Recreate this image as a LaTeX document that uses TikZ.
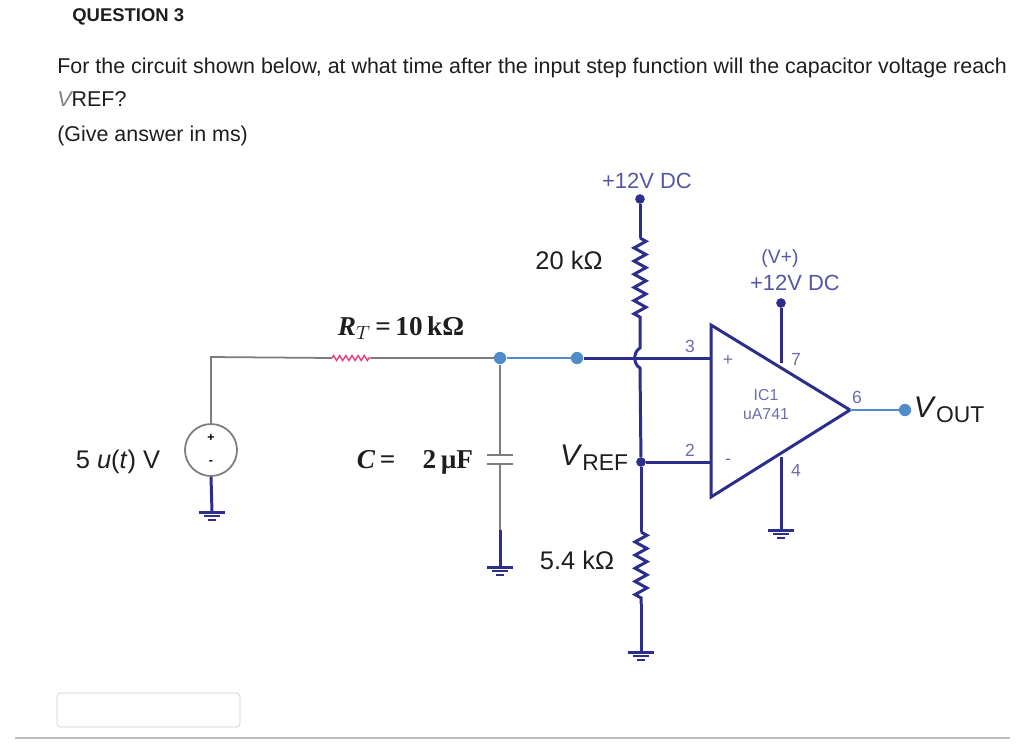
\documentclass[tikz,border=0pt]{standalone}
\usepackage{fontspec}
\setmainfont{Liberation Sans}
\newfontfamily\serifb{Liberation Serif}
\usetikzlibrary{decorations.pathmorphing,calc}
\definecolor{navy}{RGB}{45,45,140}
\definecolor{lblue}{RGB}{80,140,200}
\definecolor{wgray}{RGB}{125,125,125}
\definecolor{pinkr}{RGB}{230,60,130}
\definecolor{txt}{RGB}{30,30,30}
\begin{document}
\begin{tikzpicture}[x=0.02cm,y=-0.02cm,
  wn/.style={navy,line width=1.7pt},
  wg/.style={wgray,line width=1pt},
  wl/.style={lblue,line width=1.5pt},
  zz/.style={decorate,decoration={zigzag,segment length=7.5pt,amplitude=3.4pt}},
  dotn/.style={circle,fill=navy,inner sep=0pt,minimum size=5.5pt},
  dotl/.style={circle,fill=lblue,inner sep=0pt,minimum size=7pt},
  lab/.style={inner sep=0pt,text=txt},
  pin/.style={inner sep=0pt,text=navy!70,font=\fontsize{10}{11}\selectfont}]
\useasboundingbox (0,0) rectangle (1024,745);
\newcommand\gnd[1]{\draw[wn] ($(#1)+(-13,0)$) -- ($(#1)+(13,0)$);
  \draw[navy,line width=1pt] ($(#1)+(-8,4)$) -- ($(#1)+(8,4)$);
  \draw[navy,line width=0.9pt] ($(#1)+(-4,8)$) -- ($(#1)+(4,8)$);}
% text
\node[lab,anchor=west,font=\bfseries\fontsize{10.5}{12}\selectfont] (q) at (72,17) {QUESTION 3};
\node[lab,anchor=base west,font=\fontsize{12.2}{14}\selectfont] (l1) at (57,73) {For the circuit shown below, at what time after the input step function will the capacitor voltage reach};
\node[lab,anchor=base west,font=\fontsize{12.2}{14}\selectfont] (l2) at (57,106) {\textcolor{gray}{\itshape V}REF?};
\node[lab,anchor=base west,font=\fontsize{12.2}{14}\selectfont] (l3) at (57,141) {(Give answer in ms)};
\draw[gray!40,rounded corners=2pt] (57,693) rectangle (240,727);
\draw[gray!50,line width=0.8pt] (15,738) -- (1010,738);
% source
\node[circle,draw=wgray,line width=1pt,minimum size=52*0.02cm,inner sep=0pt] (src) at (211,450) {};
\node[inner sep=0pt,font=\bfseries\fontsize{7}{7}\selectfont] at (211,438) {+};
\node[inner sep=0pt,font=\bfseries\fontsize{7}{7}\selectfont] at (211,463) {-};
\coordinate (g1) at (212,512);
\draw[wn] (src.south) -- (g1); \gnd{g1}
\coordinate (tl) at (211,357);
\coordinate (r1a) at (332,358); \coordinate (r1b) at (371,358);
\draw[wg] (src.north) -- (tl) -- (r1a);
\draw[pinkr,line width=0.8pt,decorate,decoration={zigzag,segment length=3.5pt,amplitude=1.4pt}] (r1a) -- (r1b);
\node[dotl] (n1) at (500,358) {};
\node[dotl] (n2) at (577,358) {};
\draw[wg] (r1b) -- (n1);
\draw[wl] (n1) -- (n2);
\coordinate (pplus) at (711,358);
\draw[wn] (n2) -- (pplus);
% capacitor
\coordinate (c1) at (500,455); \coordinate (c2) at (500,464);
\coordinate (g2) at (500,567);
\draw[wg] (n1) -- (c1); \draw[wg] (c2) -- (500,530);
\draw[wn] (500,530) -- (g2); \gnd{g2}
\draw[wgray,line width=1pt] (487,455) -- (513,455) (487,464) -- (513,464);
% divider
\node[dotn] (top) at (640,199) {};
\node[dotn] (vref) at (641,462) {};
\coordinate (g3) at (641,652);
\draw[wn] (top) -- (640,238);
\draw[wn,zz] (640,238) -- (640,318);
\draw[wn] (640,318) -- (640,348) .. controls (633,352) and (633,364) .. (640,368) -- (vref);
\draw[wn] (vref) -- (641,532);
\draw[wn,zz] (641,532) -- (641,604);
\draw[wn] (641,604) -- (g3); \gnd{g3}
\coordinate (pminus) at (711,462);
\draw[wn] (vref) -- (pminus);
% opamp
\coordinate (oa) at (711,325); \coordinate (ob) at (711,497); \coordinate (tip) at (850,410);
\draw[wn,line join=miter] (oa) -- (tip) -- (ob) -- cycle;
\node[dotn] (vp) at (781,303) {};
\draw[wn] (vp) -- (781,363);
\coordinate (g4) at (781,530);
\draw[wn] (781,457) -- (g4); \gnd{g4}
\node[dotl] (vout) at (905,410) {};
\draw[wl] (tip) -- (vout);
% labels
\node[lab,font=\fontsize{12.5}{14}\selectfont,text=navy!80] at (647,181) {+12V DC};
\node[lab,font=\fontsize{14.5}{16}\selectfont] at (569,260) {20 kΩ};
\node[lab,font=\fontsize{11}{12}\selectfont,text=navy!80] at (780,258) {(V+)};
\node[lab,font=\fontsize{12.5}{14}\selectfont,text=navy!80] at (795,283) {+12V DC};
\node[lab,font=\serifb\bfseries\fontsize{15.5}{17}\selectfont] at (401,328) {\textit{R$_{T}$}\,=\,10\,kΩ};
\node[lab,font=\fontsize{14.5}{16}\selectfont] at (118,462) {5 \textit{u}(\textit{t}) V};
\node[lab,font=\serifb\bfseries\fontsize{15.5}{17}\selectfont] at (415,462) {\textit{C}\,=\quad 2\,µF};
\node[lab,font=\fontsize{17}{18}\selectfont] at (594,458) {\textit{V}\raisebox{-0.3ex}{\fontsize{13}{14}\selectfont REF}};
\node[lab,font=\fontsize{14.5}{16}\selectfont] at (577,560) {5.4 kΩ};
\node[lab,font=\fontsize{17}{18}\selectfont] at (949,410) {\textit{V}\raisebox{-0.3ex}{\fontsize{13}{14}\selectfont OUT}};
\node[pin,font=\fontsize{9}{10}\selectfont] at (766,395) {IC1};
\node[pin,font=\fontsize{9}{10}\selectfont] at (766,414) {uA741};
\node[pin] at (690,346) {3};
\node[pin] at (690,450) {2};
\node[pin] at (796,359) {7};
\node[pin] at (796,470) {4};
\node[pin] at (857,397) {6};
\node[pin] at (728,360) {+};
\node[pin] at (728,462) {-};
\end{tikzpicture}
\end{document}
